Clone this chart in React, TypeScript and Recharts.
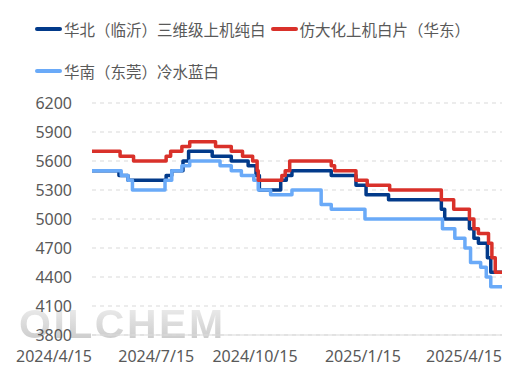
import React from 'react';
import { LineChart, Line, XAxis, YAxis, CartesianGrid } from 'recharts';

// change points: [date, price]
const northData: [string, number][] = [
    ['2024-04-15', 5500], ['2024-05-09', 5450], ['2024-05-17', 5400], ['2024-06-20', 5450],
    ['2024-06-25', 5500], ['2024-07-05', 5600], ['2024-07-10', 5700], ['2024-07-31', 5650],
    ['2024-08-17', 5600], ['2024-09-01', 5550], ['2024-09-08', 5450], ['2024-09-11', 5300],
    ['2024-09-30', 5400], ['2024-10-05', 5450], ['2024-10-10', 5500], ['2024-11-14', 5450],
    ['2024-12-06', 5350], ['2024-12-15', 5250], ['2025-01-04', 5200], ['2025-02-20', 5100],
    ['2025-02-23', 5000], ['2025-03-17', 4900], ['2025-03-21', 4800], ['2025-03-25', 4750],
    ['2025-04-02', 4600], ['2025-04-05', 4450], ['2025-04-15', 4450],
];

const eastData: [string, number][] = [
    ['2024-04-15', 5700], ['2024-05-10', 5650], ['2024-05-22', 5600], ['2024-06-20', 5650],
    ['2024-06-24', 5700], ['2024-07-04', 5750], ['2024-07-11', 5800], ['2024-08-03', 5750],
    ['2024-08-17', 5700], ['2024-08-27', 5650], ['2024-09-05', 5600], ['2024-09-09', 5500],
    ['2024-09-10', 5400], ['2024-10-01', 5450], ['2024-10-04', 5500], ['2024-10-08', 5600],
    ['2024-11-14', 5550], ['2024-11-17', 5500], ['2024-12-06', 5400], ['2024-12-16', 5350],
    ['2025-01-05', 5300], ['2025-02-20', 5200], ['2025-03-03', 5100], ['2025-03-17', 5000],
    ['2025-03-21', 4900], ['2025-03-25', 4850], ['2025-04-03', 4750], ['2025-04-06', 4600],
    ['2025-04-09', 4450], ['2025-04-15', 4450],
];

const southData: [string, number][] = [
    ['2024-04-15', 5500], ['2024-05-11', 5450], ['2024-05-17', 5400], ['2024-05-21', 5300],
    ['2024-06-19', 5400], ['2024-06-25', 5500], ['2024-07-04', 5550], ['2024-07-11', 5600],
    ['2024-08-07', 5550], ['2024-08-17', 5500], ['2024-08-26', 5450], ['2024-09-06', 5400],
    ['2024-09-10', 5300], ['2024-09-21', 5250], ['2024-10-10', 5300], ['2024-11-05', 5150],
    ['2024-11-14', 5100], ['2024-12-14', 5000], ['2025-02-21', 4900], ['2025-03-04', 4800],
    ['2025-03-13', 4700], ['2025-03-18', 4550], ['2025-03-27', 4500], ['2025-04-01', 4400],
    ['2025-04-05', 4300], ['2025-04-15', 4300],
];

const xTickDates = ['2024-04-15', '2024-07-15', '2024-10-15', '2025-01-15', '2025-04-15'];
const yTicks = [3800, 4100, 4400, 4700, 5000, 5300, 5600, 5900, 6200];

const seriesNames = ['华北（临沂）三维级上机纯白', '仿大化上机白片（华东）', '华南（东莞）冷水蓝白'];
const COLORS = ['#023a8a', '#d9312a', '#6aaaf8'];

const START = Date.parse('2024-04-15');
const toDay = (s: string) => Math.round((Date.parse(s) - START) / 86400000);
const toRows = (pts: [string, number][]) => pts.map(([d, v]) => ({ t: toDay(d), v }));

const dayLabel = (t: number) => {
    const d = new Date(START + t * 86400000);
    return `${d.getUTCFullYear()}/${d.getUTCMonth() + 1}/${d.getUTCDate()}`;
};

const FONT = '"Noto Sans", "Noto Sans CJK SC", sans-serif';
const TEXT = '#595959';

const XTick = (props: any) => (
    <text x={props.x} y={props.y} dy={27} textAnchor="end" fill={TEXT} fontSize={16} fontFamily={FONT}>
        {dayLabel(props.payload.value)}
    </text>
);

const YTick = (props: any) => (
    <text x={props.x} y={props.y} dy={5.5} textAnchor="end" fill={TEXT} fontSize={16} fontFamily={FONT}>
        {props.payload.value}
    </text>
);

export default function App() {
    const series = [toRows(northData), toRows(eastData), toRows(southData)];
    const legendOrder = [0, 1, 2];
    const drawOrder = [0, 2, 1];

    return (
        <div style={{ position: 'absolute', left: 0, top: 0, width: 532, height: 378, background: '#fff', overflow: 'hidden' }}>
            {/* watermark */}
            <div style={{
                position: 'absolute', left: 19, top: 300, fontFamily: '"Liberation Sans", sans-serif',
                fontWeight: 'bold', fontSize: 41, letterSpacing: 2.5, lineHeight: '48px',
                background: 'linear-gradient(to bottom, #f2f2f2, #c4c4c4)',
                WebkitBackgroundClip: 'text', backgroundClip: 'text', color: 'transparent',
            }}>OILCHEM</div>

            {/* legend */}
            <div style={{
                position: 'absolute', left: 35, top: 18, width: 445, display: 'flex', flexWrap: 'wrap',
                columnGap: 5, rowGap: 20, fontFamily: '"Noto Sans CJK SC", sans-serif', fontSize: 15.5, color: TEXT,
            }}>
                {legendOrder.map((i) => (
                    <div key={i} style={{ display: 'flex', alignItems: 'center', height: 22 }}>
                        <span style={{ display: 'inline-block', width: 27, height: 4, borderRadius: 2, background: COLORS[i], marginRight: 2 }} />
                        <span>{seriesNames[i]}</span>
                    </div>
                ))}
            </div>

            <div style={{ position: 'absolute', left: 0, top: 0 }}>
                <LineChart width={532} height={378} margin={{ top: 103, right: 30, bottom: 0, left: 32 }}>
                    <CartesianGrid vertical={false} stroke="#d9d9d9" strokeDasharray="4 4" />
                    <XAxis
                        type="number"
                        dataKey="t"
                        domain={[0, toDay('2025-04-15')]}
                        ticks={xTickDates.map(toDay)}
                        tick={<XTick />}
                        tickLine={false}
                        tickSize={0}
                        tickMargin={0}
                        axisLine={{ stroke: '#d9d9d9' }}
                        allowDataOverflow
                        interval={0}
                        height={43}
                    />
                    <YAxis
                        type="number"
                        domain={[3800, 6200]}
                        ticks={yTicks}
                        tick={<YTick />}
                        tickLine={false}
                        axisLine={false}
                        tickSize={0}
                        tickMargin={20}
                        width={60}
                        interval={0}
                    />
                    {drawOrder.map((i) => (
                        <Line
                            key={i}
                            data={series[i]}
                            dataKey="v"
                            type="stepAfter"
                            stroke={COLORS[i]}
                            strokeWidth={3.5}
                            strokeLinejoin="round"
                            dot={false}
                            activeDot={false}
                            isAnimationActive={false}
                        />
                    ))}
                </LineChart>
            </div>
        </div>
    );
}
